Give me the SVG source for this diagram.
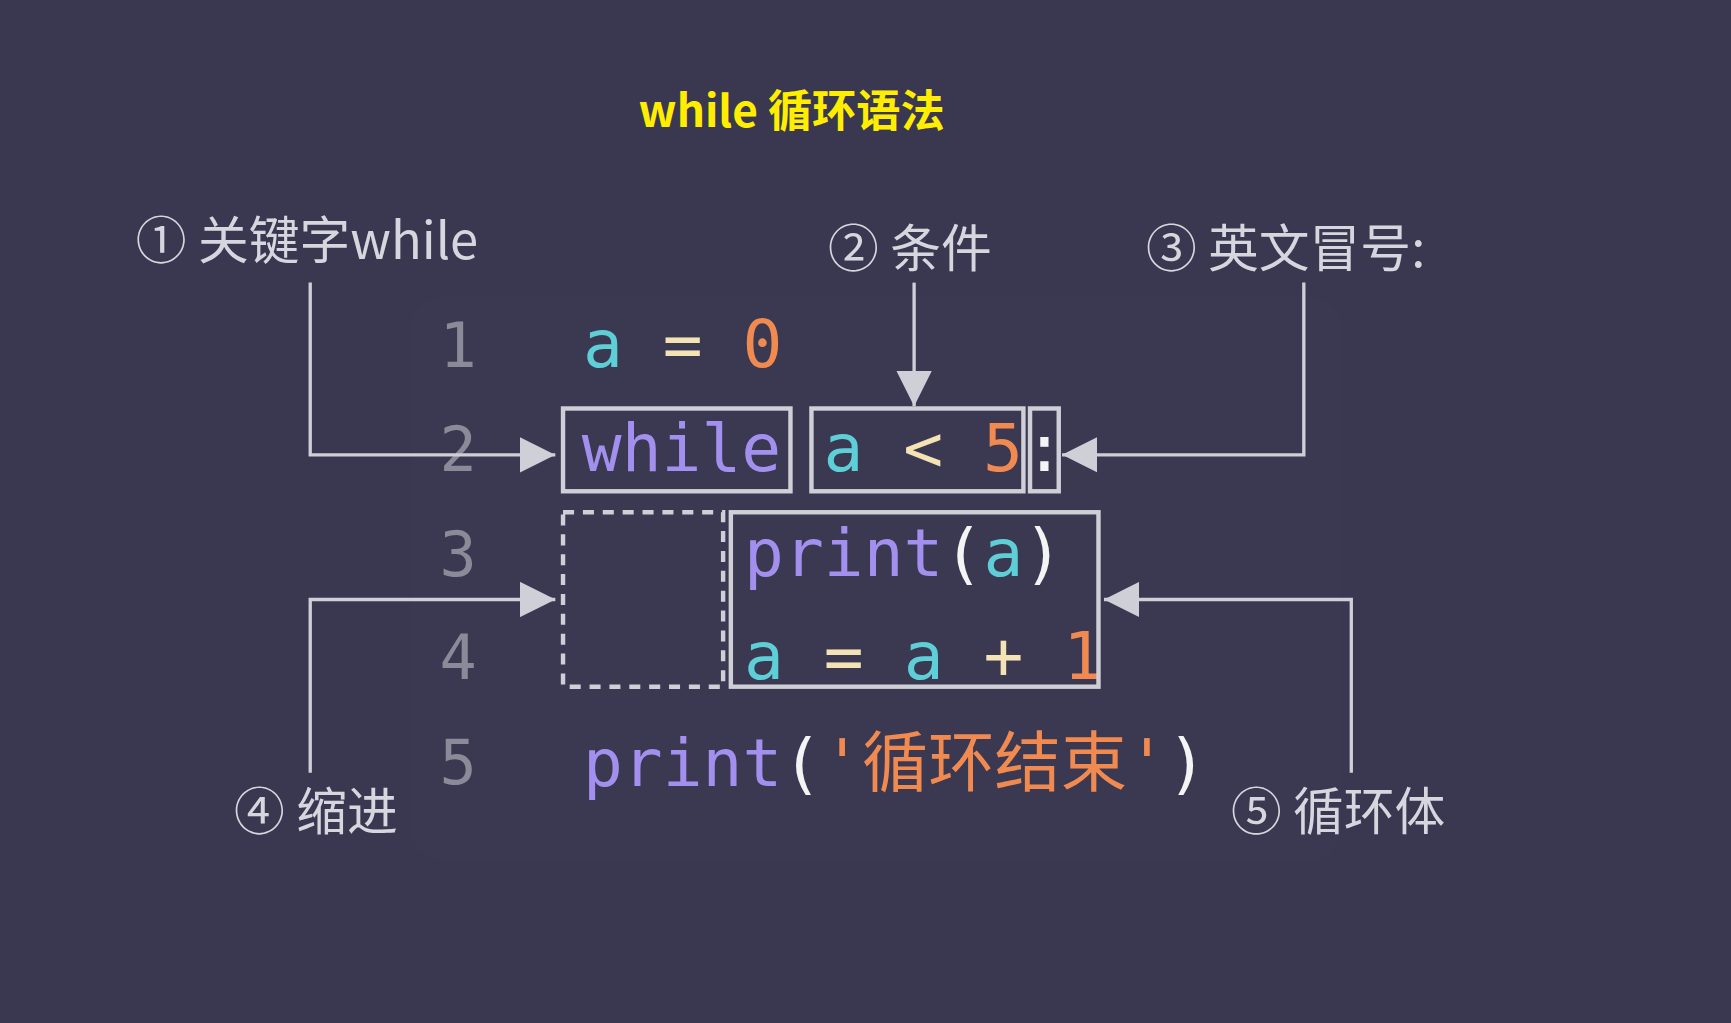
<svg xmlns="http://www.w3.org/2000/svg" width="1731" height="1023" viewBox="0 0 1731 1023">
<style>
.lbl{font-family:"Noto Sans CJK SC","Noto Sans",sans-serif;font-size:46px;fill:#d6d6de}
.ln{font-family:"DejaVu Sans Mono",monospace;font-size:56px;fill:#8a8a98}
.code{font-family:"DejaVu Sans Mono","Noto Sans CJK SC",monospace;font-size:60px}
.p{fill:#a390ee}.c{fill:#5ecfd6}.y{fill:#f3e3b5}.o{fill:#f08a50}.w{fill:#f4f4f4}
.box{fill:none;stroke:#cfcfd8;stroke-width:4}
.con{fill:none;stroke:#cfcfd8;stroke-width:3}
</style>
<defs>
<marker id="ah" viewBox="0 0 10 10" refX="10" refY="5" markerWidth="32" markerHeight="32" markerUnits="userSpaceOnUse" orient="auto"><path d="M0,0L10,5L0,10z" fill="#cfcfd8"/></marker>
</defs>
<rect width="1731" height="1023" fill="#3a3850"/>
<g transform="scale(1.104)">
<rect x="372" y="268" width="843" height="512" rx="30" fill="#3b3951"/>
<text x="717" y="115" text-anchor="middle" font-family="Noto Sans CJK SC,sans-serif" font-weight="bold" font-size="40" fill="#ffee00">while 循环语法</text>
<g id="l1"><text class="lbl" x="123" y="235">① 关键字while</text></g>
<g id="l2"><text class="lbl" x="750" y="242">② 条件</text></g>
<g id="l3"><text class="lbl" x="1038" y="242">③ 英文冒号:</text></g>
<g id="l4"><text class="lbl" x="212" y="752">④ 缩进</text></g>
<g id="l5"><text class="lbl" x="1115" y="752">⑤ 循环体</text></g>
<g id="lines">
<text class="ln" x="398" y="332">1</text><text class="ln" x="398" y="427">2</text><text class="ln" x="398" y="522">3</text><text class="ln" x="398" y="615">4</text><text class="ln" x="398" y="710">5</text>
</g>
<g id="code">
<text class="code" x="528" y="332"><tspan class="c">a</tspan><tspan class="y"> = </tspan><tspan class="o">0</tspan></text>
<text class="code p" x="527" y="427">while</text>
<text class="code" x="746" y="427"><tspan class="c">a</tspan><tspan class="y"> &lt; </tspan><tspan class="o">5</tspan></text>
<text class="code w" x="928" y="427">:</text>
<text class="code" x="674" y="522"><tspan class="p">print</tspan><tspan class="w">(</tspan><tspan class="c">a</tspan><tspan class="w">)</tspan></text>
<text class="code" x="674" y="615"><tspan class="c">a</tspan><tspan class="y"> = </tspan><tspan class="c">a</tspan><tspan class="y"> + </tspan><tspan class="o">1</tspan></text>
<text class="code" x="528" y="712"><tspan class="p">print</tspan><tspan class="w">(</tspan><tspan class="o">'循环结束'</tspan><tspan class="w">)</tspan></text>
</g>
<g id="boxes">
<rect class="box" x="510" y="370" width="206" height="75"/>
<rect class="box" x="735" y="370" width="192" height="75"/>
<rect class="box" x="933" y="370" width="26" height="75"/>
<rect class="box" x="510" y="464" width="145" height="158" stroke-dasharray="10 8"/>
<rect class="box" x="662" y="464" width="333" height="158"/>
</g>
<g id="connectors">
<path class="con" d="M281,256V412H503" marker-end="url(#ah)"/>
<path class="con" d="M828,256V368" marker-end="url(#ah)"/>
<path class="con" d="M1181,256V412H962" marker-end="url(#ah)"/>
<path class="con" d="M281,700V543H503" marker-end="url(#ah)"/>
<path class="con" d="M1224,700V543H1000" marker-end="url(#ah)"/>
</g>
</g>
</svg>
